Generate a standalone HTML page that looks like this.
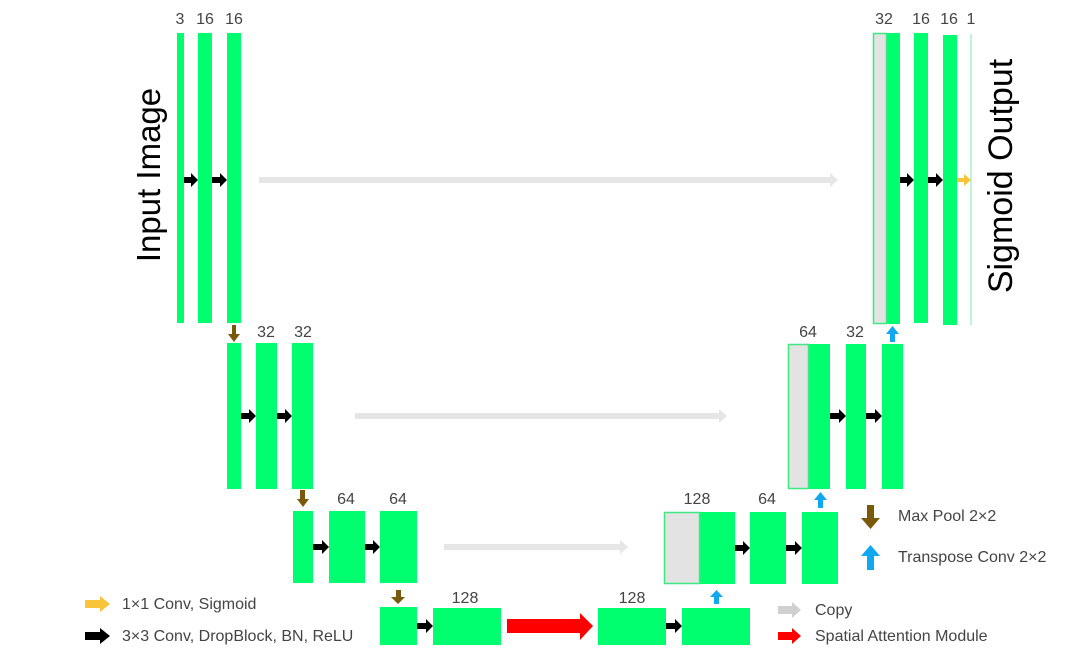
<!DOCTYPE html>
<html><head><meta charset="utf-8"><style>
html,body{margin:0;padding:0;background:#fff;width:1080px;height:661px;overflow:hidden}
svg{display:block}
text{font-family:"Liberation Sans",sans-serif}
.n{font-size:16px;fill:#444;text-anchor:middle}
.l{font-size:16px;fill:#444}
</style></head><body>
<svg width="1080" height="661" viewBox="0 0 1080 661" xmlns="http://www.w3.org/2000/svg">
<g fill="#00ff6e">
<rect x="177" y="33" width="7" height="290"/>
<rect x="198" y="33" width="14" height="290"/>
<rect x="227" y="33" width="14" height="290"/>
<rect x="886" y="33" width="14" height="291"/>
<rect x="914" y="33" width="14" height="290"/>
<rect x="943" y="35" width="14" height="290"/>
<rect x="227" y="343" width="14" height="146"/>
<rect x="256" y="343" width="21" height="146"/>
<rect x="292" y="343" width="21" height="146"/>
<rect x="808" y="344" width="22" height="145"/>
<rect x="846" y="344" width="20" height="145"/>
<rect x="882" y="344" width="21" height="145"/>
<rect x="293" y="511" width="20" height="72"/>
<rect x="329" y="511" width="36" height="72"/>
<rect x="380" y="511" width="37" height="72"/>
<rect x="699" y="512" width="36" height="72"/>
<rect x="750" y="512" width="36" height="72"/>
<rect x="802" y="512" width="36" height="72"/>
<rect x="380" y="607" width="37" height="38"/>
<rect x="433" y="608" width="68" height="37"/>
<rect x="598" y="608" width="68" height="37"/>
<rect x="682" y="608" width="68" height="37"/>
</g>
<rect x="873.5" y="33.5" width="13" height="290" fill="#e3e3e3" stroke="#3ee882" stroke-width="1.5"/>
<rect x="788.5" y="344.5" width="20" height="144" fill="#e3e3e3" stroke="#3ee882" stroke-width="1.5"/>
<rect x="664.5" y="512.5" width="35" height="71" fill="#e3e3e3" stroke="#3ee882" stroke-width="1.5"/>
<rect x="970.5" y="34" width="1" height="291" fill="#7fe8a8"/>

<g fill="#e6e6e6">
<polygon points="259,177 830,177 830,173 838,180 830,187 830,183 259,183"/>
<polygon points="355,413 719,413 719,409 727,416 719,423 719,419 355,419"/>
<polygon points="444,544 620,544 620,540 628,547 620,554 620,550 444,550"/>
<polygon points="778,606 792,606 792,602 801,610 792,618 792,614 778,614" fill="#d0d0d0"/>
</g>
<g fill="#000">
<polygon points="184,177 191,177 191,173 198,180 191,187 191,183 184,183"/>
<polygon points="212,177 220,177 220,173 227,180 220,187 220,183 212,183"/>
<polygon points="900,177 907,177 907,173 914,180 907,187 907,183 900,183"/>
<polygon points="928,177 936,177 936,173 943,180 936,187 936,183 928,183"/>
<polygon points="241,413 249,413 249,409 256,416 249,423 249,419 241,419"/>
<polygon points="277,413 285,413 285,409 292,416 285,423 285,419 277,419"/>
<polygon points="830,413 839,413 839,409 846,416 839,423 839,419 830,419"/>
<polygon points="866,413 875,413 875,409 882,416 875,423 875,419 866,419"/>
<polygon points="313,544 322,544 322,540 329,547 322,554 322,550 313,550"/>
<polygon points="365,544 373,544 373,540 380,547 373,554 373,550 365,550"/>
<polygon points="735,545 743,545 743,541 750,548 743,555 743,551 735,551"/>
<polygon points="786,545 795,545 795,541 802,548 795,555 795,551 786,551"/>
<polygon points="417,623 426,623 426,619 433,626 426,633 426,629 417,629"/>
<polygon points="666,623 675,623 675,619 682,626 675,633 675,629 666,629"/>
<polygon points="85,632 100,632 100,628 110,636 100,644 100,640 85,640"/>
</g>
<polygon points="957,178 964,178 964,174 971,180 964,186 964,182 957,182" fill="#f8c43a"/>
<polygon points="85,600 100,600 100,596 110,604 100,612 100,608 85,608" fill="#f8c43a"/>
<polygon points="507,619 580,619 580,613 593,626 580,640 580,633 507,633" fill="#ff0000"/>
<polygon points="778,632 792,632 792,628 801,636 792,644 792,640 778,640" fill="#ff0000"/>
<g fill="#7a5a0a">
<polygon points="232,325 236,325 236,334 240,334 234,342 228,334 232,334"/>
<polygon points="300,490 305,490 305,499 309,499 303,507 297,499 300,499"/>
<polygon points="396,590 401,590 401,597 405,597 398,604 391,597 396,597"/>
<polygon points="867,505 874,505 874,518 880,518 870.5,529 861,518 867,518"/>
</g>
<g fill="#11a8f0">
<polygon points="890,342 895,342 895,334 899,334 892.5,326 886,334 890,334"/>
<polygon points="818,508 823,508 823,500 827,500 820.5,492 814,500 818,500"/>
<polygon points="714,604 719,604 719,597 723,597 716.5,590 710,597 714,597"/>
<polygon points="867,570 874,570 874,556 880,556 870.5,545 861,556 867,556"/>
</g>
<text class="n" x="180" y="24">3</text>
<text class="n" x="205" y="24">16</text>
<text class="n" x="234" y="24">16</text>
<text class="n" x="884" y="24">32</text>
<text class="n" x="921" y="24">16</text>
<text class="n" x="949" y="24">16</text>
<text class="n" x="971" y="24">1</text>
<text class="n" x="266" y="337">32</text>
<text class="n" x="303" y="337">32</text>
<text class="n" x="808" y="337">64</text>
<text class="n" x="855" y="337">32</text>
<text class="n" x="346" y="504">64</text>
<text class="n" x="398" y="504">64</text>
<text class="n" x="697" y="504">128</text>
<text class="n" x="767" y="504">64</text>
<text class="n" x="465" y="603">128</text>
<text class="n" x="632" y="603">128</text>
<text x="0" y="0" font-size="33" fill="#000" text-anchor="middle" transform="translate(160,175) rotate(-90)">Input Image</text>
<text x="0" y="0" font-size="34" fill="#000" text-anchor="middle" transform="translate(1012,176) rotate(-90)">Sigmoid Output</text>
<text class="l" x="122" y="609">1×1 Conv, Sigmoid</text>
<text class="l" x="122" y="641">3×3 Conv, DropBlock, BN, ReLU</text>
<text class="l" x="898" y="521">Max Pool 2×2</text>
<text class="l" x="898" y="562">Transpose Conv 2×2</text>
<text class="l" x="815" y="615">Copy</text>
<text class="l" x="815" y="641">Spatial Attention Module</text>
</svg>
</body></html>
